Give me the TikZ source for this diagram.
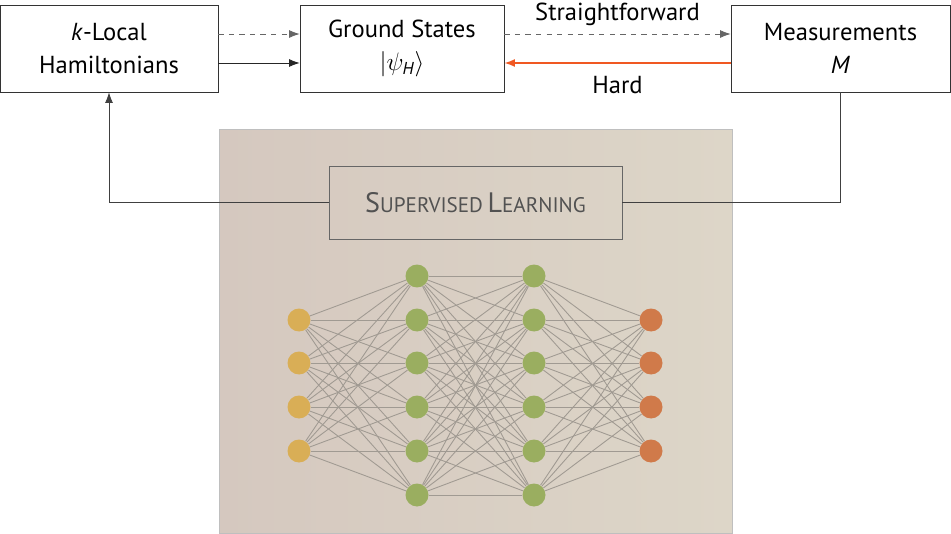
\documentclass[tikz,border=0pt]{standalone}
\usepackage{fontspec}
\setmainfont{PT Sans}
\usepackage{amsmath}
\usetikzlibrary{arrows.meta}
\definecolor{hardcol}{RGB}{240,88,34}
\definecolor{incol}{RGB}{217,174,86}
\definecolor{hidcol}{RGB}{154,174,96}
\definecolor{outcol}{RGB}{208,122,74}
\definecolor{bgleft}{RGB}{213,200,191}
\definecolor{bgright}{RGB}{221,214,200}
\definecolor{edgecol}{RGB}{160,154,146}
\newcommand{\fakesc}[2]{{\fontsize{16}{20}\selectfont #1}{\fontsize{12}{20}\selectfont #2}}
\tikzset{
  box/.style={draw=black!80,fill=white,minimum height=1.74cm,align=center,
    inner sep=2pt,font=\fontsize{14}{19}\selectfont,
    execute at begin node={\rule{0pt}{17pt}}},
  neuron/.style={circle,minimum size=0.46cm,inner sep=0pt},
  link/.style={draw=edgecol,line width=0.5pt},
}
\begin{document}
\begin{tikzpicture}[x=0.02cm,y=-0.02cm,>={Latex[length=6pt,width=4.5pt]}]
  \useasboundingbox (0,0) rectangle (951,534);
  % learning region
  \shade[left color=bgleft,right color=bgright] (219,129) rectangle (732,533);
  \draw[black!25] (219,129) rectangle (732,533);
  % problem boxes
  \node[box,minimum width=4.36cm] (A) at (109,48.5) {\textit{k}-Local\\Hamiltonians};
  \node[box,minimum width=4.08cm] (B) at (402,48.5) {Ground States\\$|\psi_{\textit{H}}\rangle$};
  \node[box,minimum width=4.38cm] (C) at (840.5,48.5) {Measurements\\\textit{M}};
  \node[draw=black!60,minimum width=5.86cm,minimum height=1.46cm,text=black!68] (S)
    at (475.5,202.5) {\fakesc{S}{UPERVISED} \fakesc{L}{EARNING}};
  \draw[->,dashed,black!60] ([yshift=0.29cm]A.east) -- ([yshift=0.29cm]B.west);
  \draw[->,black!85] ([yshift=-0.29cm]A.east) -- ([yshift=-0.29cm]B.west);
  \draw[->,dashed,black!60] ([yshift=0.29cm]B.east) -- node[above=1pt,font=\fontsize{14}{18}\selectfont,text=black] {Straightforward} ([yshift=0.29cm]C.west);
  \draw[->,hardcol,line width=0.9pt] ([yshift=-0.29cm]C.west) -- node[below=4pt,font=\fontsize{14}{18}\selectfont,text=black] {Hard} ([yshift=-0.29cm]B.east);
  \draw[black!75] (C.south) |- (S.east);
  \draw[->,black!75] (S.west) -| (A.south);
  % network
  \foreach \y [count=\i] in {320,363,407,451}{
    \node[neuron,fill=incol] (i\i) at (299,\y) {};
    \node[neuron,fill=outcol] (o\i) at (651,\y) {};
  }
  \foreach \y [count=\i] in {276,320,363,407,451,495}{
    \node[neuron,fill=hidcol] (a\i) at (417,\y) {};
    \node[neuron,fill=hidcol] (b\i) at (534,\y) {};
  }
  \foreach \j in {1,...,6}{
    \foreach \i in {1,...,4}{
      \draw[link] (i\i) -- (a\j);
      \draw[link] (b\j) -- (o\i);
    }
    \foreach \k in {1,...,6}
      \draw[link] (a\j) -- (b\k);
  }
\end{tikzpicture}
\end{document}
